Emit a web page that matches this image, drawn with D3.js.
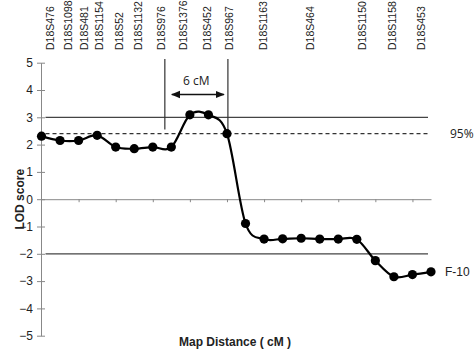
<!DOCTYPE html>
<html>
<head>
<meta charset="utf-8">
<script src="https://cdn.jsdelivr.net/npm/d3@7"></script>
<style>
  body { margin: 0; background: #fff; }
  text { font-family: Arial, "Liberation Sans", sans-serif; fill: #222; }
  .calibri { font-family: "Open Sans", sans-serif; }
</style>
</head>
<body>
<div id="chart"></div>
<script>
// LOD scores, one per map position
let lodScores = [2.31, 2.15, 2.15, 2.34, 1.91, 1.85, 1.91, 1.91, 3.09, 3.09, 2.40,
  -0.89, -1.46, -1.45, -1.43, -1.46, -1.46, -1.47, -2.25, -2.84, -2.76, -2.66];

// marker names and the (fractional) position where each label sits
let markerNames = ['D18S476', 'D18S1098', 'D18S481', 'D18S1154', 'D18S52', 'D18S1132',
  'D18S976', 'D18S1376', 'D18S452', 'D18S967', 'D18S1163', 'D18S464', 'D18S1150',
  'D18S1158', 'D18S453'];
let markerPos = [0.5, 1.45, 2.3, 3.15, 4.2, 5.25, 6.45, 7.65, 8.95, 10.15,
  11.95, 14.5, 17.3, 18.95, 20.5];

let yTicks = [5, 4, 3, 2, 1, 0, -1, -2, -3, -4, -5];
let xTickIdx = [2, 4, 6, 8, 10, 12, 14, 16, 18, 20];
let thresholds = [3, -2];
let sigLevel = 2.4;
let intervalIdx = [6.65, 10.05]; // the 6 cM bracket

let width = 474, height = 351;
let margin = {top: 62.7, left: 41, right: 43, bottom: 15};

let svg = d3.select('#chart').append('svg')
  .attr('width', width)
  .attr('height', height);

let x = d3.scaleLinear()
  .domain([0, lodScores.length - 1])
  .range([margin.left + 0.5, 431]);

let y = d3.scaleLinear()
  .domain([-5, 5])
  .range([335.7, margin.top]);

// y axis
let yAxis = svg.append('g')
  .attr('transform', 'translate(' + margin.left + ',0)')
  .call(d3.axisLeft(y).tickValues(yTicks).tickSize(4).tickSizeOuter(0).tickFormat(d3.format('d')));
yAxis.select('.domain').attr('stroke', '#888');
yAxis.selectAll('.tick line').attr('stroke', '#888').attr('x2', 4).attr('x1', -4);
yAxis.selectAll('.tick text')
  .attr('x', -8)
  .style('font-size', '12px')
  .style('font-family', 'Arial, "Liberation Sans", sans-serif')
  .attr('fill', '#222');

// x axis at zero
let xAxis = svg.append('g')
  .attr('transform', 'translate(0,' + y(0) + ')')
  .call(d3.axisBottom(x).tickValues(xTickIdx).tickSize(3).tickSizeOuter(0).tickFormat(''));
xAxis.select('.domain').attr('stroke', '#888');
xAxis.selectAll('.tick line').attr('stroke', '#888');

// threshold lines
svg.selectAll('.thresh').data(thresholds)
  .enter().append('line')
    .attr('class', 'thresh')
    .attr('x1', x(0) + 4).attr('x2', 428)
    .attr('y1', d => y(d)).attr('y2', d => y(d))
    .attr('stroke', '#444')
    .attr('stroke-width', 1.2);

svg.append('line')
  .attr('x1', x(0) + 4).attr('x2', 428)
  .attr('y1', y(sigLevel)).attr('y2', y(sigLevel))
  .attr('stroke', '#333')
  .attr('stroke-width', 1.2)
  .attr('stroke-dasharray', '4,3');

svg.append('text')
  .attr('class', 'calibri')
  .attr('x', 450).attr('y', y(sigLevel) + 4)
  .style('font-size', '12px')
  .text('95%');

// 6 cM bracket
svg.selectAll('.bracket').data(intervalIdx)
  .enter().append('line')
    .attr('class', 'bracket')
    .attr('x1', d => x(d)).attr('x2', d => x(d))
    .attr('y1', 59).attr('y2', (d, i) => i ? y(2.45) : y(2.55))
    .attr('stroke', '#333')
    .attr('stroke-width', 1.2);

let defs = svg.append('defs');
defs.append('marker')
  .attr('id', 'arrow')
  .attr('viewBox', '0 0 10 10')
  .attr('refX', 9).attr('refY', 5)
  .attr('markerWidth', 7).attr('markerHeight', 7)
  .attr('orient', 'auto-start-reverse')
  .append('path')
    .attr('d', 'M0,1 L10,5 L0,9 Z')
    .attr('fill', '#111');

svg.append('line')
  .attr('x1', x(intervalIdx[0]) + 7).attr('x2', x(intervalIdx[1]) - 4)
  .attr('y1', 94.5).attr('y2', 94.5)
  .attr('stroke', '#111')
  .attr('stroke-width', 1.3)
  .attr('marker-start', 'url(#arrow)')
  .attr('marker-end', 'url(#arrow)');

svg.append('text')
  .attr('class', 'calibri')
  .attr('x', (x(intervalIdx[0]) + x(intervalIdx[1])) / 2)
  .attr('y', 85)
  .attr('text-anchor', 'middle')
  .style('font-size', '12px')
  .text('6 cM');

// marker labels along the top
svg.selectAll('.mk').data(markerNames)
  .enter().append('text')
    .attr('class', 'mk')
    .attr('transform', (d, i) => 'translate(' + (x(markerPos[i]) + 3.5) + ',50) rotate(-90)')
    .style('font-size', '10.5px')
    .text(d => d);

// LOD curve, smoothed like the spreadsheet original
let line = d3.line()
  .x((d, i) => x(i))
  .y(d => y(d))
  .curve(d3.curveCardinal.tension(0));

svg.append('path')
  .datum(lodScores)
  .attr('fill', 'none')
  .attr('stroke', '#000')
  .attr('stroke-width', 2.2)
  .attr('d', line);

svg.selectAll('.dot').data(lodScores)
  .enter().append('circle')
    .attr('class', 'dot')
    .attr('cx', (d, i) => x(i))
    .attr('cy', d => y(d))
    .attr('r', 4.6)
    .attr('fill', '#000');

svg.append('text')
  .attr('x', 445).attr('y', y(-2.66) + 4)
  .style('font-size', '12px')
  .text('F-10');

// axis titles
svg.append('text')
  .attr('transform', 'translate(24,' + y(0) + ') rotate(-90)')
  .attr('text-anchor', 'middle')
  .style('font-size', '12px')
  .style('font-weight', 'bold')
  .text('LOD score');

svg.append('text')
  .attr('x', 235).attr('y', 346)
  .attr('text-anchor', 'middle')
  .style('font-size', '12px')
  .style('font-weight', 'bold')
  .text('Map Distance ( cM )');
</script>
</body>
</html>
